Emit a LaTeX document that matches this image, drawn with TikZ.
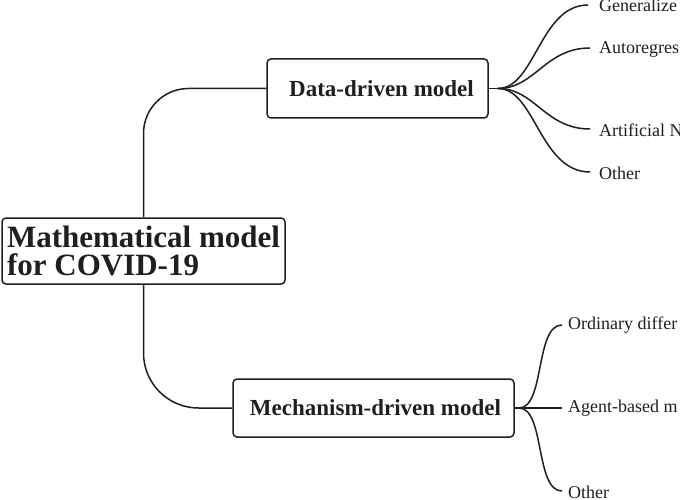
\documentclass[tikz,border=0pt]{standalone}
\usepackage{fontspec}
\setmainfont{Liberation Serif}
\begin{document}
\begin{tikzpicture}[x=1pt,y=-1pt,
  ln/.style={draw=black!88, line width=1.5pt},
  box/.style={ln, rounded corners=4pt, inner sep=0pt, font=\bfseries},
  leaf/.style={anchor=west, inner sep=0pt, font=\fontsize{18}{20}\selectfont, text=black!88}]
\useasboundingbox (0,0) rectangle (680,500);
\clip (0,0) rectangle (680,500);
\node[box, minimum width=283pt, minimum height=66pt, align=left,
      font=\bfseries\fontsize{31}{28.5}\selectfont, text=black!88] (root) at (143.5,251) {Mathematical model\\for COVID-19};
\node[box, minimum width=221pt, minimum height=59pt, font=\bfseries\fontsize{23}{26}\selectfont, text=black!88] (data) at (377.5,88.5) {\hspace*{8pt}Data-driven model};
\node[box, minimum width=281pt, minimum height=58pt, font=\bfseries\fontsize{23}{26}\selectfont, text=black!88] (mech) at (373.5,408) {\hspace*{4pt}Mechanism-driven model};
\draw[ln, rounded corners=45pt] (root.north) |- (data.west);
\draw[ln, rounded corners=55pt] (root.south) |- (mech.west);
% data leaves
\coordinate (dj) at (498,88.5);
\coordinate (d1) at (588,5);
\coordinate (d2) at (590,48);
\coordinate (d3) at (590,129);
\coordinate (d4) at (590,172);
\node[leaf] (t1) at (599,5) {Generalize};
\node[leaf] (t2) at (599,50) {Autoregres};
\node[leaf] (t3) at (599,130) {Artificial N};
\node[leaf] (t4) at (599,173) {Other};
\draw[ln] (data.east) -- (dj);
\draw[ln] (dj) .. controls (535,88.5) and (540,5) .. (d1);
\draw[ln] (dj) .. controls (535,88.5) and (545,48) .. (d2);
\draw[ln] (dj) .. controls (535,88.5) and (545,129) .. (d3);
\draw[ln] (dj) .. controls (535,88.5) and (540,172) .. (d4);
% mech leaves
\coordinate (mj) at (519,408);
\coordinate (m1) at (562,325);
\coordinate (m2) at (562,408);
\coordinate (m3) at (562,491);
\node[leaf] (u1) at (568,325) {Ordinary differ};
\node[leaf] (u2) at (568,408) {Agent-based m};
\node[leaf] (u3) at (568,492) {Other};
\draw[ln] (mech.east) -- (mj);
\draw[ln] (mj) .. controls (545,408) and (535,325) .. (m1);
\draw[ln] (mj) -- (m2);
\draw[ln] (mj) .. controls (545,408) and (535,491) .. (m3);
\end{tikzpicture}
\end{document}
